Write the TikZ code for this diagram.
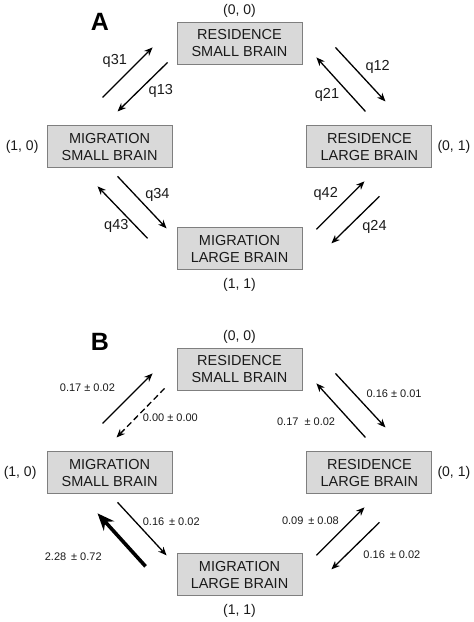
\documentclass[tikz,border=0pt]{standalone}
\usepackage{fontspec}
\setmainfont{Liberation Sans}
\usepackage{xcolor}
\usetikzlibrary{arrows.meta,positioning}

\definecolor{boxfill}{HTML}{D9D9D9}
\definecolor{boxline}{HTML}{7F7F7F}
\definecolor{ink}{HTML}{1A1A1A}

\tikzset{
  box/.style={rectangle, draw=boxline, fill=boxfill, line width=0.9pt, minimum width=125pt, minimum height=42pt, inner sep=0pt, align=center, text=ink, font=\fontsize{14.5}{17}\selectfont},
  state/.style={inner sep=0pt, text=ink, font=\fontsize{14}{16}\selectfont},
  arr/.style={-{Stealth[length=8.5pt,width=7pt]}, line width=1.3pt},
  rate/.style={inner sep=0pt, text=ink, font=\fontsize{14.5}{16}\selectfont},
  est/.style={inner sep=0pt, text=ink, font=\fontsize{11}{13}\selectfont},
  panel/.style={inner sep=0pt, font=\fontsize{25}{28}\bfseries}
}

\begin{document}
\begin{tikzpicture}[x=1pt, y=-1pt]
    \useasboundingbox (0,0) rectangle (474,622);

    % panel A
    \node (labA) [panel] at (100,22) {A};
    \node (resS) [box] at (239.5,43) {RESIDENCE\\SMALL BRAIN};
    \node (migS) [box, below left=61pt and 4pt of resS] {MIGRATION\\SMALL BRAIN};
    \node (resL) [box, below right=61pt and 4pt of resS] {RESIDENCE\\LARGE BRAIN};
    \node (migL) [box, below right=59pt and 4pt of migS] {MIGRATION\\LARGE BRAIN};

    \node (stS) [state, above=4pt of resS] {(0, 0)};
    \node (stmS) [state, left=8pt of migS] {(1, 0)};
    \node (stL) [state, right=5pt of resL] {(0, 1)};
    \node (stmL) [state, below=8pt of migL] {(1, 1)};

    \draw [arr] ([shift={(-70,-28)}]migS.north east) -- node[rate, pos=.74, left=12pt] {q31} ([shift={(-24,-17)}]resS.south west);
    \draw [arr] ([shift={(-9,-2)}]resS.south west) -- node[rate, pos=.59, right=10pt] {q13} ([shift={(-55,-14)}]migS.north east);
    \draw [arr] ([shift={(33,-17)}]resS.south east) -- node[rate, pos=.37, right=11pt] {q12} ([shift={(79,-24)}]resL.north west);
    \draw [arr] ([shift={(59,-14)}]resL.north west) -- node[rate, pos=.30, left=11pt] {q21} ([shift={(14,-7)}]resS.south east);
    \draw [arr] ([shift={(-55,8)}]migS.south east) -- node[rate, pos=.35, right=10pt] {q34} ([shift={(-10,1)}]migL.north west);
    \draw [arr] ([shift={(-29,11)}]migL.north west) -- node[rate, pos=.23, left=7pt] {q43} ([shift={(-75,18)}]migS.south east);
    \draw [arr] ([shift={(14,2)}]migL.north east) -- node[rate, pos=.73, left=13pt] {q42} ([shift={(58,13)}]resL.south west);
    \draw [arr] ([shift={(73,28)}]resL.south west) -- node[rate, pos=.66, right=14pt] {q24} ([shift={(29,16)}]migL.north east);

    % panel B
    \node (labB) [panel] at (100,342) {B};
    \node (resSb) [box] at (239.5,369) {RESIDENCE\\SMALL BRAIN};
    \node (migSb) [box, below left=61pt and 4pt of resSb] {MIGRATION\\SMALL BRAIN};
    \node (resLb) [box, below right=61pt and 4pt of resSb] {RESIDENCE\\LARGE BRAIN};
    \node (migLb) [box, below right=59pt and 4pt of migSb] {MIGRATION\\LARGE BRAIN};

    \node (stSb) [state, above=4pt of resSb] {(0, 0)};
    \node (stmSb) [state, left=10pt of migSb] {(1, 0)};
    \node (stLb) [state, right=5pt of resLb] {(0, 1)};
    \node (stmLb) [state, below=8pt of migLb] {(1, 1)};

    \draw [arr] ([shift={(-70,-28)}]migSb.north east) -- node[est, pos=.72, left=23pt] {0.17 ± 0.02} ([shift={(-24,-17)}]resSb.south west);
    \draw [arr, dash pattern=on 6pt off 3.5pt] ([shift={(-12,-2)}]resSb.south west) -- node[est, pos=.59, right=6pt] {0.00 ± 0.00} ([shift={(-56,-14)}]migSb.north east);
    \draw [arr] ([shift={(33,-17)}]resSb.south east) -- node[est, pos=.37, right=12pt] {0.16 ± 0.01} ([shift={(79,-24)}]resLb.north west);
    \draw [arr] ([shift={(59,-14)}]resLb.north west) -- node[est, pos=.30, left=15pt] {0.17 \ ± 0.02} ([shift={(14,-7)}]resSb.south east);
    \draw [arr] ([shift={(-55,8)}]migSb.south east) -- node[est, pos=.36, right=7pt] {0.16 \,± 0.02} ([shift={(-10,2)}]migLb.north west);
    \draw [-{Stealth[length=17pt,width=14pt]}, line width=3.6pt] ([shift={(-31,13)}]migLb.north west) -- node[est, pos=.19, left=33pt] {2.28 \,± 0.72} ([shift={(-75,19)}]migSb.south east);
    \draw [arr] ([shift={(14,2)}]migLb.north east) -- node[est, pos=.73, left=12pt] {0.09 \,± 0.08} ([shift={(58,13)}]resLb.south west);
    \draw [arr] ([shift={(73,28)}]resLb.south west) -- node[est, pos=.68, right=16pt] {0.16 \,± 0.02} ([shift={(29,16)}]migLb.north east);
\end{tikzpicture}
\end{document}
